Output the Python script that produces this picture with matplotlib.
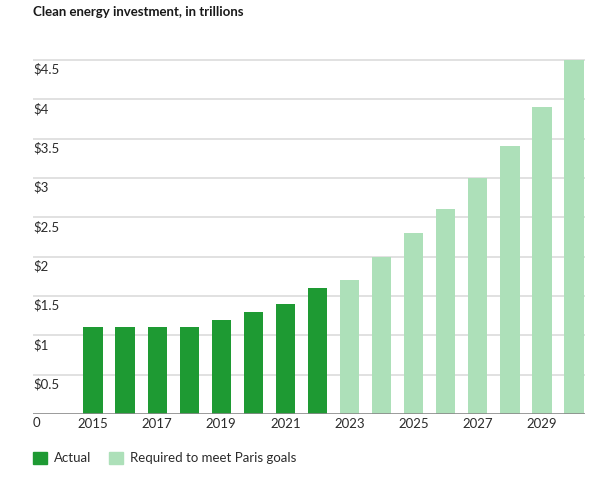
import matplotlib
matplotlib.use('Agg')
import matplotlib.pyplot as plt
from matplotlib.patches import Patch

plt.rcParams['font.family'] = ['Lato', 'DejaVu Sans']

# Donnees
actual_years = [2015, 2016, 2017, 2018, 2019, 2020, 2021, 2022]
actual_values = [1.1, 1.1, 1.1, 1.1, 1.2, 1.3, 1.4, 1.6]
required_years = [2023, 2024, 2025, 2026, 2027, 2028, 2029, 2030]
required_values = [1.7, 2.0, 2.3, 2.6, 3.0, 3.4, 3.9, 4.5]
y_ticks = [0, 0.5, 1, 1.5, 2, 2.5, 3, 3.5, 4, 4.5]
y_labels = ['0', '$0.5', '$1', '$1.5', '$2', '$2.5', '$3', '$3.5', '$4', '$4.5']
x_ticks = [2015, 2017, 2019, 2021, 2023, 2025, 2027, 2029]

dark_green = '#1e9a33'
light_green = '#ade0b9'
text_col = '#2b2b2b'

fig = plt.figure(figsize=(5.93, 4.8), dpi=100)
ax = fig.add_axes([33 / 593, 66 / 480, 552 / 593, 362 / 480])

ax.bar(actual_years, actual_values, width=0.6, color=dark_green, zorder=2)
ax.bar(required_years, required_values, width=0.6, color=light_green, zorder=2)

ax.set_xlim(2013.13, 2030.34)
ax.set_ylim(0, 4.6)

# Grille horizontale
for v in y_ticks[1:]:
    ax.axhline(v, color='#dcdcdc', lw=1.2, zorder=1)
ax.axhline(0, color='#8a8a8a', lw=1.2, zorder=3)

# Etiquettes de l'axe y sous chaque ligne
for v, lab in zip(y_ticks, y_labels):
    ax.annotate(lab, xy=(0, v), xycoords=ax.get_yaxis_transform(),
                xytext=(0, -2.5), textcoords='offset points',
                ha='left', va='top', fontsize=9.5, color=text_col, zorder=4)

ax.set_yticks([])
ax.set_xticks(x_ticks)
ax.set_xticklabels([str(x) for x in x_ticks], fontsize=9.5, color=text_col)
ax.tick_params(axis='x', length=0, pad=3)
for s in ax.spines.values():
    s.set_visible(False)

fig.text(33 / 593, 1 - 12 / 480, 'Clean energy investment, in trillions',
         fontsize=9.5, fontweight='bold', color='#1a1a1a', va='center', ha='left')

handles = [Patch(color=dark_green, label='Actual'),
           Patch(color=light_green, label='Required to meet Paris goals')]
fig.legend(handles=handles, loc='center left', bbox_to_anchor=(21 / 593, 1 - 458 / 480),
           ncol=2, frameon=False, fontsize=9.5, handlelength=1.1, handleheight=1.1,
           handletextpad=0.5, columnspacing=1.3, labelcolor=text_col)

fig.savefig('out.png', dpi=100)
